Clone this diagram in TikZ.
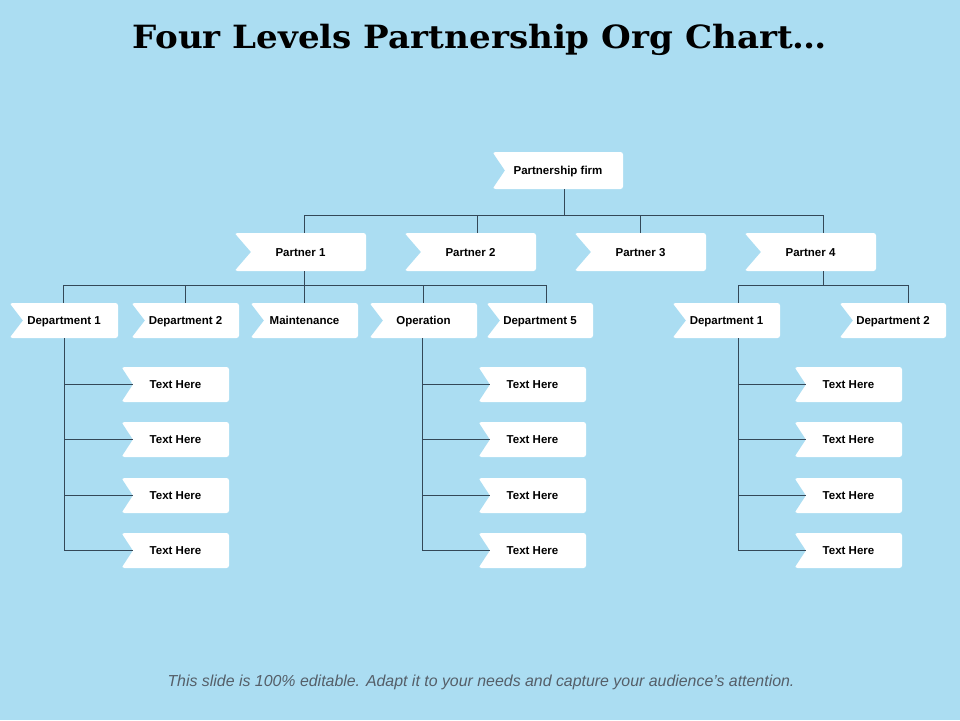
\documentclass[tikz,border=0pt]{standalone}
\usepackage{fontspec}
\setmainfont{Liberation Sans}
\newfontfamily\titlefont{DejaVu Serif}
\definecolor{bgc}{RGB}{171,221,242}
\definecolor{linec}{RGB}{52,72,88}
\definecolor{footc}{RGB}{85,95,105}
\newcommand\nb[7]{%
  \node[nbox, minimum width={#4-#2}, minimum height={#5-#3}] (#1) at ({(#2+#4)/2},{(#3+#5)/2}) {#7};
  \fill[bgc] ([xshift=-0.6]#1.north west) -- ([xshift=#6]#1.west) -- ([xshift=-0.6]#1.south west) -- cycle;
}
\begin{document}
\begin{tikzpicture}[x=1pt,y=-1pt,
  nbox/.style={fill=white, rounded corners=2.5pt, inner sep=0pt, text height=8.3pt, text depth=0pt, font=\bfseries\fontsize{11.5}{13}\selectfont},
  conn/.style={draw=linec, line width=1pt}]
\fill[bgc] (0,0) rectangle (960,720);
\useasboundingbox (0,0) rectangle (960,720);
\node[anchor=base, inner sep=0pt] (title) at (480,48) {\scalebox{1.066}[1]{\titlefont\bfseries\fontsize{32}{36}\selectfont Four Levels Partnership Org Chart…}};
\node[text=footc, anchor=base, inner sep=0pt] (foot) at (481,686) {\itshape\fontsize{15.9}{18}\selectfont This slide is 100\% editable. Adapt it to your needs and capture your audience's attention.};
% boxes
\nb{firm}{493}{152}{623}{189}{12}{Partnership firm}
\nb{p1}{235}{233}{366}{271}{16}{Partner 1}
\nb{p2}{405}{233}{536}{271}{16}{Partner 2}
\nb{p3}{575}{233}{706}{271}{16}{Partner 3}
\nb{p4}{745}{233}{876}{271}{16}{Partner 4}
\nb{d1}{10}{303}{118}{338}{13}{Department 1}
\nb{d2}{132}{303}{239}{338}{13}{Department 2}
\nb{mt}{251}{303}{358}{338}{13}{Maintenance}
\nb{op}{370}{303}{477}{338}{13}{Operation}
\nb{d5}{487}{303}{593}{338}{13}{Department 5}
\nb{rd1}{673}{303}{780}{338}{13}{Department 1}
\nb{rd2}{840}{303}{946}{338}{13}{Department 2}
\nb{la}{122}{367}{229}{402}{11}{Text Here}
\nb{lb}{122}{422}{229}{457}{11}{Text Here}
\nb{lc}{122}{478}{229}{513}{11}{Text Here}
\nb{ld}{122}{533}{229}{568}{11}{Text Here}
\nb{ma}{479}{367}{586}{402}{11}{Text Here}
\nb{mb}{479}{422}{586}{457}{11}{Text Here}
\nb{mc}{479}{478}{586}{513}{11}{Text Here}
\nb{md}{479}{533}{586}{568}{11}{Text Here}
\nb{ra}{795}{367}{902}{402}{11}{Text Here}
\nb{rb}{795}{422}{902}{457}{11}{Text Here}
\nb{rc}{795}{478}{902}{513}{11}{Text Here}
\nb{rd}{795}{533}{902}{568}{11}{Text Here}
% level 1 -> 2
\draw[conn] ([xshift=6]firm.south) -- ++(0,27);
\draw[conn] ([xshift=3.5]p1.north) -- ++(0,-17) -| ([xshift=12.5]p4.north);
\draw[conn] ([xshift=6.5]p2.north) -- ++(0,-17);
\draw[conn] (p3.north) -- ++(0,-17);
% partner 1 -> departments
\draw[conn] ([xshift=3.5]p1.south) -- ([xshift=3.5]p1.south |- mt.north);
\draw[conn] ([xshift=-1]d1.north) -- ++(0,-17) -| ([xshift=6]d5.north);
\draw[conn] (d2.north) -- ++(0,-17);
\draw[conn] (op.north) -- ++(0,-17);
% partner 4 -> departments
\draw[conn] ([xshift=12.5]p4.south) -- ++(0,15);
\draw[conn] ([xshift=11.5]rd1.north) -- ++(0,-17) -| ([xshift=15]rd2.north);
% department 1 (left) -> text
\draw[conn] (d1.south) |- ([xshift=11]ld.west);
\draw[conn] (d1.south |- la.west) -- ([xshift=11]la.west);
\draw[conn] (d1.south |- lb.west) -- ([xshift=11]lb.west);
\draw[conn] (d1.south |- lc.west) -- ([xshift=11]lc.west);
% operation -> text
\draw[conn] ([xshift=-1.5]op.south) |- ([xshift=11]md.west);
\draw[conn] ([xshift=-1.5]op.south |- ma.west) -- ([xshift=11]ma.west);
\draw[conn] ([xshift=-1.5]op.south |- mb.west) -- ([xshift=11]mb.west);
\draw[conn] ([xshift=-1.5]op.south |- mc.west) -- ([xshift=11]mc.west);
% department 1 (right) -> text
\draw[conn] ([xshift=11.5]rd1.south) |- ([xshift=11]rd.west);
\draw[conn] ([xshift=11.5]rd1.south |- ra.west) -- ([xshift=11]ra.west);
\draw[conn] ([xshift=11.5]rd1.south |- rb.west) -- ([xshift=11]rb.west);
\draw[conn] ([xshift=11.5]rd1.south |- rc.west) -- ([xshift=11]rc.west);
\end{tikzpicture}
\end{document}
